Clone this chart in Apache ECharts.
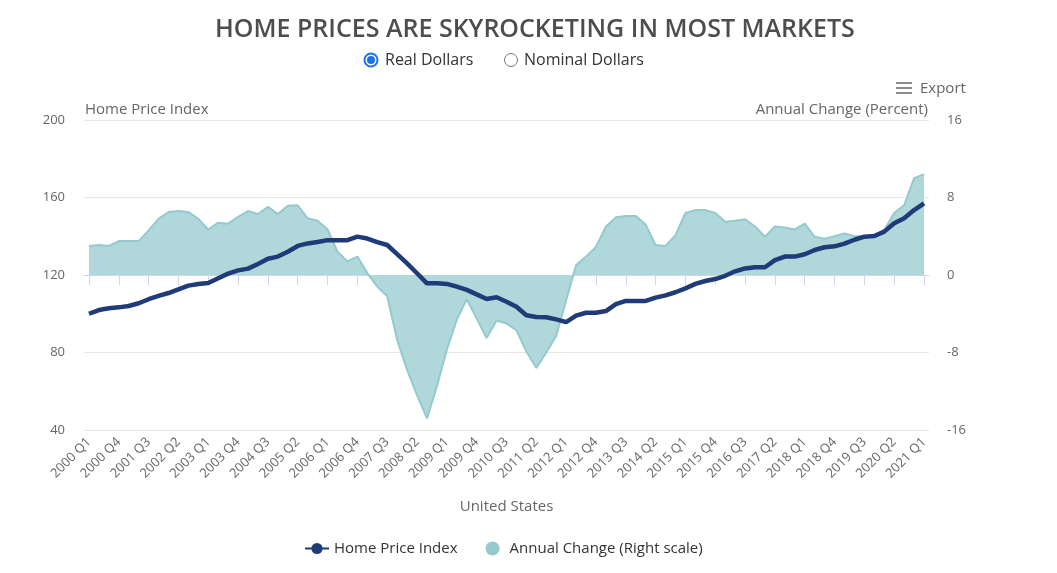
<!DOCTYPE html>
<html>
<head>
<meta charset="utf-8">
<title>Home prices</title>
<script src="https://cdn.jsdelivr.net/npm/echarts@6/dist/echarts.min.js"></script>
<style>
  html, body { margin: 0; padding: 0; background: #fff; }
  #chart { width: 1057px; height: 573px; }
</style>
</head>
<body>
<div id="chart"></div>
<script>
// quarters 2000 Q1 .. 2021 Q1
const quarters = [];
for (let y = 2000; y <= 2021; y++) {
    for (let q = 1; q <= 4; q++) {
        if (y === 2021 && q > 1) break;
        quarters.push(y + " Q" + q);
    }
}

// Home Price Index (left scale)
const priceIndex = [
    100, 101.9, 102.8, 103.3, 104, 105.4, 107.5, 109.2, 110.7, 112.6,
    114.5, 115.4, 115.9, 118.3, 120.7, 122.4, 123.3, 125.7, 128.4, 129.5,
    132, 135, 136.3, 137, 138, 138, 138, 139.8, 138.8, 137,
    135.5, 130.8, 126, 120.9, 115.7, 115.7, 115.4, 114, 112.3, 110,
    107.6, 108.5, 106.2, 103.6, 99.2, 98.3, 98.2, 97.1, 95.7, 99.0,
    100.5, 100.5, 101.4, 105, 106.6, 106.6, 106.6, 108.3, 109.5, 111.1,
    113.1, 115.4, 116.9, 117.9, 119.6, 121.9, 123.4, 124, 124, 127.7,
    129.5, 129.5, 130.7, 132.9, 134.3, 134.8, 136.2, 138.2, 139.8, 140.1,
    142.4, 146.7, 149.3, 153.5, 157
];

// Annual change in percent (right scale)
const annualChange = [
    3.0, 3.1, 3.0, 3.5, 3.5, 3.5, 4.6, 5.8, 6.5, 6.6,
    6.5, 5.8, 4.7, 5.4, 5.3, 6.0, 6.6, 6.3, 7.05, 6.3,
    7.15, 7.2, 5.85, 5.6, 4.7, 2.4, 1.4, 1.9, 0.2, -1.2,
    -2.2, -6.7, -9.8, -12.4, -14.8, -11.5, -7.7, -4.6, -2.5, -4.5,
    -6.5, -4.7, -5.0, -5.7, -7.9, -9.6, -8.0, -6.3, -2.6, 1.0,
    1.9, 2.9, 5.0, 5.95, 6.1, 6.1, 5.2, 3.1, 3.0, 4.1,
    6.4, 6.7, 6.7, 6.4, 5.5, 5.6, 5.75, 5.0, 3.95, 5.0,
    4.9, 4.7, 5.3, 3.95, 3.75, 4.0, 4.3, 4.0, 4.0, 4.0,
    4.65, 6.4, 7.2, 10.0, 10.4
];

// every third quarter gets a label
const labelSteps = [];
for (let i = 0; i < quarters.length; i += 3) labelSteps.push(i);

const FONT = "'Open Sans', sans-serif";
const chart = echarts.init(document.getElementById("chart"));

chart.setOption({
    animation: false,
    textStyle: { fontFamily: FONT },
    title: {
        text: "HOME PRICES ARE SKYROCKETING IN MOST MARKETS",
        left: 210,
        top: 12,
        textStyle: { fontSize: 25, fontWeight: 600, color: "#4d4d4d", fontFamily: FONT }
    },
    grid: { left: 84, right: 128, top: 120, bottom: 143 },
    legend: {
        bottom: 12,
        left: 299,
        itemGap: 28,
        itemWidth: 24,
        itemHeight: 14,
        textStyle: { fontSize: 15, color: "#333", fontFamily: FONT },
        data: [
            { name: "Home Price Index" },
            { name: "Annual Change (Right scale)", icon: "circle" }
        ]
    },
    xAxis: {
        type: "value",
        min: -0.5,
        max: quarters.length - 0.5,
        name: "United States",
        nameLocation: "middle",
        nameGap: 69,
        nameTextStyle: { fontSize: 15, color: "#666" },
        axisLine: { show: true, lineStyle: { color: "#ccd6eb" } },
        axisTick: { show: true, length: 10, customValues: labelSteps, lineStyle: { color: "#ccd6eb" } },
        axisLabel: {
            customValues: labelSteps,
            rotate: 45,
            margin: 10,
            fontSize: 13,
            color: "#666",
            formatter: v => quarters[v] || ""
        },
        splitLine: { show: false }
    },
    yAxis: [
        {
            type: "value",
            min: 40,
            max: 200,
            interval: 40,
            name: "Home Price Index",
            nameLocation: "end",
            nameGap: 3,
            nameTextStyle: { fontSize: 15, color: "#666", align: "left", padding: [0, 0, 0, -4] },
            axisLine: { show: false },
            axisTick: { show: false },
            axisLabel: { fontSize: 13, color: "#666", margin: 19 },
            splitLine: { lineStyle: { color: "#e6e6e6", width: 1 } }
        },
        {
            type: "value",
            min: -16,
            max: 16,
            interval: 8,
            name: "Annual Change (Percent)",
            nameLocation: "end",
            nameGap: 3,
            nameTextStyle: { fontSize: 15, color: "#666", align: "right", padding: [0, 1, 0, 0] },
            axisLine: { show: false },
            axisTick: { show: false },
            axisLabel: { fontSize: 13, color: "#666", margin: 18 },
            splitLine: { show: false }
        }
    ],
    series: [
        {
            name: "Annual Change (Right scale)",
            type: "line",
            yAxisIndex: 1,
            data: annualChange.map((v, i) => [i, v]),
            symbol: "none",
            color: "#95c9ce",
            lineStyle: { color: "#95c9ce", width: 2 },
            areaStyle: { color: "#b0d8db", opacity: 1 },
            z: 1
        },
        {
            name: "Home Price Index",
            type: "line",
            yAxisIndex: 0,
            data: priceIndex.map((v, i) => [i, v]),
            symbol: "none",
            color: "#1f3b78",
            lineStyle: { color: "#1f3b78", width: 4.5 },
            z: 3
        }
    ],
    graphic: [
        // radio buttons
        { type: "circle", shape: { cx: 371, cy: 60, r: 6.5 }, style: { fill: "#fff", stroke: "#1a73e8", lineWidth: 2 } },
        { type: "circle", shape: { cx: 371, cy: 60, r: 4 }, style: { fill: "#1a73e8" } },
        { type: "text", x: 385, y: 60, style: { text: "Real Dollars", fontSize: 16, fontFamily: FONT, fill: "#333", verticalAlign: "middle" } },
        { type: "circle", shape: { cx: 511, cy: 60, r: 6.5 }, style: { fill: "#fff", stroke: "#767676", lineWidth: 1 } },
        { type: "text", x: 524, y: 60, style: { text: "Nominal Dollars", fontSize: 16, fontFamily: FONT, fill: "#333", verticalAlign: "middle" } },
        // export menu
        { type: "line", shape: { x1: 896, y1: 83, x2: 912, y2: 83 }, style: { stroke: "#666", lineWidth: 1.5 } },
        { type: "line", shape: { x1: 896, y1: 88, x2: 912, y2: 88 }, style: { stroke: "#666", lineWidth: 1.5 } },
        { type: "line", shape: { x1: 896, y1: 93, x2: 912, y2: 93 }, style: { stroke: "#666", lineWidth: 1.5 } },
        { type: "text", x: 920, y: 89, style: { text: "Export", fontSize: 15, fontFamily: FONT, fill: "#666", verticalAlign: "middle" } }
    ]
});
</script>
</body>
</html>
